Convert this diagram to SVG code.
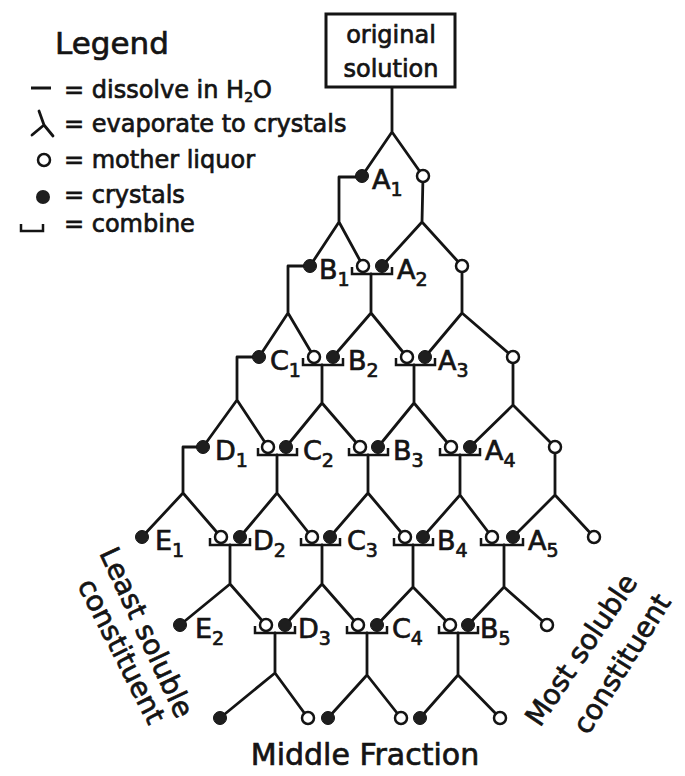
<svg xmlns="http://www.w3.org/2000/svg" width="685" height="776" viewBox="0 0 685 776">
<style>
.ln{fill:none;stroke:#141414;stroke-width:2.8;stroke-linejoin:round;stroke-linecap:round}
.br{fill:none;stroke:#141414;stroke-width:2.5;stroke-linejoin:miter}
.cr{fill:#1e1e1e;stroke:#141414;stroke-width:1}
.ml{fill:#fff;stroke:#141414;stroke-width:2.5}
text{font-family:"DejaVu Sans","Liberation Sans",sans-serif;fill:#141414;stroke:#141414;stroke-width:0.7px}
.lb{font-size:27px}
.sub{font-size:19px}
.lg{font-size:24px}
.big{font-size:28px}
</style>
<rect width="685" height="776" fill="#fff"/>

<g id="legend">
<text x="55" y="54" style="font-size:31px">Legend</text>
<line x1="31" y1="88" x2="51" y2="88" stroke="#141414" stroke-width="3"/>
<text class="lg" x="64" y="98">= dissolve in H<tspan style="font-size:14px" dy="4">2</tspan><tspan dy="-4">O</tspan></text>
<path class="ln" d="M39,111 L44,125 M32,135 L44,125 L53,136"/>
<text class="lg" x="64" y="132">= evaporate to crystals</text>
<circle cx="44" cy="160" r="6" fill="#fff" stroke="#141414" stroke-width="2.5"/>
<text class="lg" x="64" y="168">= mother liquor</text>
<circle cx="43" cy="197" r="7" fill="#1e1e1e"/>
<text class="lg" x="64" y="203">= crystals</text>
<path class="br" d="M21,224 V231 H43 V224"/>
<text class="lg" x="64" y="232">= combine</text>
</g>

<g id="connectors">
<path class="ln" d="M392,87 V132 M362,176 L392,132 L423,176"/>
<path class="ln" d="M362,177 H339 V222 M310,266 L339,222 L363,266"/>
<path class="ln" d="M423,176 L422,222 M382,266 L422,222 L462,266"/>
<path class="ln" d="M310,266 H288 V313 M259,357 L288,313 L314,357"/>
<path class="ln" d="M371,274 V313 M333,357 L371,313 L407,357"/>
<path class="ln" d="M462,266 V313 M425,357 L462,313 L513,357"/>
<path class="ln" d="M259,357 H237 V400 M203,447 L237,400 L268,447"/>
<path class="ln" d="M322,365 V403 M286,447 L322,403 L360,447"/>
<path class="ln" d="M414,365 V403 M378,447 L414,403 L451,447"/>
<path class="ln" d="M513,357 V405 M470,447 L513,405 L555,447"/>
<path class="ln" d="M203,447 H183 V493 M142,537 L183,493 L221,537"/>
<path class="ln" d="M277,455 V493 M240,537 L277,493 L312,537"/>
<path class="ln" d="M368,455 V493 M330,537 L368,493 L405,537"/>
<path class="ln" d="M460,455 V495 M423,537 L460,495 L492,537"/>
<path class="ln" d="M555,447 V495 M513,537 L555,495 L594,537"/>
<path class="ln" d="M230,545 V584 M180,625 L230,584 L266,625"/>
<path class="ln" d="M322,545 V584 M285,625 L322,584 L358,625"/>
<path class="ln" d="M413,545 V587 M377,625 L413,587 L450,625"/>
<path class="ln" d="M504,545 V587 M468,625 L504,587 L547,625"/>
<path class="ln" d="M275,633 V673 M220,718 L275,673 L308,718"/>
<path class="ln" d="M367,633 V675 M328,718 L367,675 L401,718"/>
<path class="ln" d="M458,633 V675 M420,718 L458,675 L500,718"/>
</g>

<g id="original">
<rect x="326" y="14" width="129" height="73" fill="#fff" stroke="#141414" stroke-width="3"/>
<text class="lg" x="391" y="43" text-anchor="middle">original</text>
<text class="lg" x="391" y="77" text-anchor="middle">solution</text>
</g>

<g id="A1"><circle class="cr" cx="362" cy="176" r="6.5"/><text class="lb" x="372" y="189">A<tspan class="sub" dy="7">1</tspan></text></g>
<g id="L1"><circle class="ml" cx="423" cy="176" r="6"/></g>

<g id="B1"><circle class="cr" cx="310" cy="266" r="6.5"/><text class="lb" x="319" y="279">B<tspan class="sub" dy="7">1</tspan></text></g>
<g id="A2"><path class="br" d="M352,267 V274 H392 V267"/><circle class="ml" cx="363" cy="266" r="6"/><circle class="cr" cx="382" cy="266" r="6.5"/><text class="lb" x="397" y="279">A<tspan class="sub" dy="7">2</tspan></text></g>
<g id="L2"><circle class="ml" cx="462" cy="266" r="6"/></g>

<g id="C1"><circle class="cr" cx="259" cy="357" r="6.5"/><text class="lb" x="270" y="370">C<tspan class="sub" dy="7">1</tspan></text></g>
<g id="B2"><path class="br" d="M303,358 V365 H343 V358"/><circle class="ml" cx="314" cy="357" r="6"/><circle class="cr" cx="333" cy="357" r="6.5"/><text class="lb" x="348" y="370">B<tspan class="sub" dy="7">2</tspan></text></g>
<g id="A3"><path class="br" d="M396,358 V365 H435 V358"/><circle class="ml" cx="407" cy="357" r="6"/><circle class="cr" cx="425" cy="357" r="6.5"/><text class="lb" x="438" y="370">A<tspan class="sub" dy="7">3</tspan></text></g>
<g id="L3"><circle class="ml" cx="513" cy="357" r="6"/></g>

<g id="D1"><circle class="cr" cx="203" cy="447" r="6.5"/><text class="lb" x="215" y="460">D<tspan class="sub" dy="7">1</tspan></text></g>
<g id="C2"><path class="br" d="M258,448 V455 H297 V448"/><circle class="ml" cx="268" cy="447" r="6"/><circle class="cr" cx="286" cy="447" r="6.5"/><text class="lb" x="303" y="460">C<tspan class="sub" dy="7">2</tspan></text></g>
<g id="B3"><path class="br" d="M349,448 V455 H388 V448"/><circle class="ml" cx="360" cy="447" r="6"/><circle class="cr" cx="378" cy="447" r="6.5"/><text class="lb" x="393" y="460">B<tspan class="sub" dy="7">3</tspan></text></g>
<g id="A4"><path class="br" d="M440,448 V455 H480 V448"/><circle class="ml" cx="451" cy="447" r="6"/><circle class="cr" cx="470" cy="447" r="6.5"/><text class="lb" x="485" y="460">A<tspan class="sub" dy="7">4</tspan></text></g>
<g id="L4"><circle class="ml" cx="555" cy="447" r="6"/></g>

<g id="E1"><circle class="cr" cx="142" cy="537" r="6.5"/><text class="lb" x="155" y="550">E<tspan class="sub" dy="7">1</tspan></text></g>
<g id="D2"><path class="br" d="M210,538 V545 H250 V538"/><circle class="ml" cx="221" cy="537" r="6"/><circle class="cr" cx="240" cy="537" r="6.5"/><text class="lb" x="253" y="550">D<tspan class="sub" dy="7">2</tspan></text></g>
<g id="C3"><path class="br" d="M301,538 V545 H340 V538"/><circle class="ml" cx="312" cy="537" r="6"/><circle class="cr" cx="330" cy="537" r="6.5"/><text class="lb" x="347" y="550">C<tspan class="sub" dy="7">3</tspan></text></g>
<g id="B4"><path class="br" d="M394,538 V545 H433 V538"/><circle class="ml" cx="405" cy="537" r="6"/><circle class="cr" cx="423" cy="537" r="6.5"/><text class="lb" x="437" y="550">B<tspan class="sub" dy="7">4</tspan></text></g>
<g id="A5"><path class="br" d="M481,538 V545 H523 V538"/><circle class="ml" cx="492" cy="537" r="6"/><circle class="cr" cx="513" cy="537" r="6.5"/><text class="lb" x="528" y="550">A<tspan class="sub" dy="7">5</tspan></text></g>
<g id="L5"><circle class="ml" cx="594" cy="537" r="6"/></g>

<g id="E2"><circle class="cr" cx="180" cy="625" r="6.5"/><text class="lb" x="195" y="638">E<tspan class="sub" dy="7">2</tspan></text></g>
<g id="D3"><path class="br" d="M255,626 V633 H295 V626"/><circle class="ml" cx="266" cy="625" r="6"/><circle class="cr" cx="285" cy="625" r="6.5"/><text class="lb" x="298" y="638">D<tspan class="sub" dy="7">3</tspan></text></g>
<g id="C4"><path class="br" d="M347,626 V633 H387 V626"/><circle class="ml" cx="358" cy="625" r="6"/><circle class="cr" cx="377" cy="625" r="6.5"/><text class="lb" x="392" y="638">C<tspan class="sub" dy="7">4</tspan></text></g>
<g id="B5"><path class="br" d="M439,626 V633 H478 V626"/><circle class="ml" cx="450" cy="625" r="6"/><circle class="cr" cx="468" cy="625" r="6.5"/><text class="lb" x="480" y="638">B<tspan class="sub" dy="7">5</tspan></text></g>
<g id="L6"><circle class="ml" cx="547" cy="625" r="6"/></g>

<g id="bottom">
<circle class="cr" cx="220" cy="718" r="6.5"/>
<circle class="ml" cx="308" cy="718" r="6"/>
<circle class="cr" cx="328" cy="718" r="6.5"/>
<circle class="ml" cx="401" cy="718" r="6"/>
<circle class="cr" cx="420" cy="718" r="6.5"/>
<circle class="ml" cx="500" cy="718" r="6"/>
</g>

<g id="labels">
<text class="big" transform="translate(99,553) rotate(65)">Least soluble</text>
<text class="big" transform="translate(77,585) rotate(63)">constituent</text>
<text class="big" transform="translate(540,728) rotate(-56)">Most soluble</text>
<text class="big" transform="translate(588,736) rotate(-58)">constituent</text>
<text x="365" y="765" text-anchor="middle" style="font-size:30px">Middle Fraction</text>
</g>
</svg>
